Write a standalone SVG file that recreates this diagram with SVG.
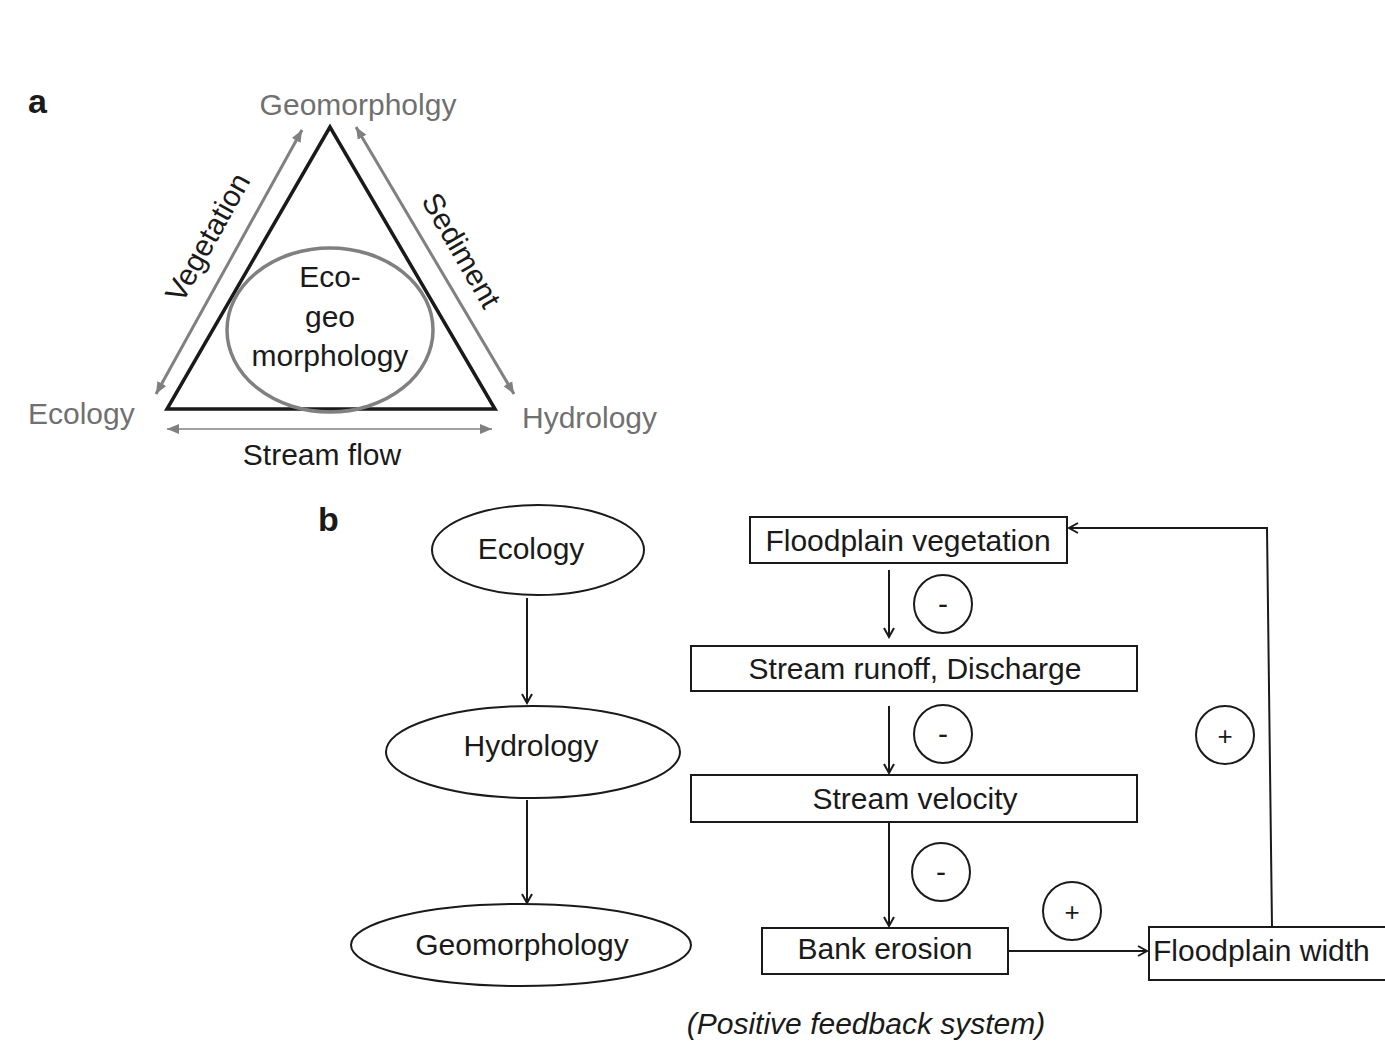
<svg xmlns="http://www.w3.org/2000/svg" width="1385" height="1061" viewBox="0 0 1385 1061">
<style>
text{font-family:"Liberation Sans",Arial,sans-serif;font-size:30px;fill:#1a1a1a}
.g{fill:#707070}
.lbl{font-weight:bold;font-size:34px}
.k{stroke:#1a1a1a;stroke-width:2;fill:none}
.box{stroke:#1a1a1a;stroke-width:2;fill:#fff}
.ga{stroke:#808080;stroke-width:3;fill:none}
</style>
<defs>
<marker id="ah" markerWidth="12" markerHeight="12" refX="10" refY="6" orient="auto" markerUnits="userSpaceOnUse"><path d="M1,1 L10,6 L1,11" fill="none" stroke="#1a1a1a" stroke-width="2"/></marker>
<marker id="gh" markerWidth="14" markerHeight="12" refX="12" refY="6" orient="auto-start-reverse" markerUnits="userSpaceOnUse"><path d="M0,1 L12,6 L0,11 Z" fill="#808080"/></marker>
</defs>
<rect width="1385" height="1061" fill="#fff"/>
<text class="lbl" x="28" y="113">a</text>
<text class="lbl" x="318" y="531">b</text>
<g id="triangle">
<polygon points="330,127 167,409 495,409" fill="none" stroke="#1a1a1a" stroke-width="3.5"/>
<ellipse cx="330" cy="330" rx="103" ry="82" fill="none" stroke="#808080" stroke-width="3.5"/>
<text x="330" y="287" text-anchor="middle">Eco-</text>
<text x="330" y="327" text-anchor="middle">geo</text>
<text x="330" y="366" text-anchor="middle">morphology</text>
</g>
<g id="a-arrows">
<line class="ga" x1="156" y1="394" x2="302" y2="130" marker-start="url(#gh)" marker-end="url(#gh)"/>
<line class="ga" x1="356" y1="127" x2="514" y2="394" marker-start="url(#gh)" marker-end="url(#gh)"/>
<line stroke="#808080" stroke-width="1.5" x1="167" y1="429" x2="492" y2="429" marker-start="url(#gh)" marker-end="url(#gh)"/>
</g>
<g id="a-labels">
<text class="g" x="358" y="115" text-anchor="middle">Geomorpholgy</text>
<text class="g" x="28" y="424">Ecology</text>
<text class="g" x="522" y="428">Hydrology</text>
<text x="207" y="248" text-anchor="middle" transform="rotate(-61 207 237)">Vegetation</text>
<text x="462" y="261" text-anchor="middle" transform="rotate(60 462 250)">Sediment</text>
<text x="322" y="465" text-anchor="middle">Stream flow</text>
</g>
<g id="ecology"><ellipse class="box" cx="538" cy="550" rx="106" ry="45"/><text x="531" y="559" text-anchor="middle">Ecology</text></g>
<g id="hydrology"><ellipse class="box" cx="533" cy="752" rx="147" ry="46"/><text x="531" y="756" text-anchor="middle">Hydrology</text></g>
<g id="geomorphology"><ellipse class="box" cx="521" cy="945" rx="170" ry="41"/><text x="522" y="955" text-anchor="middle">Geomorphology</text></g>
<g id="fv"><rect class="box" x="750" y="517" width="317" height="46"/><text x="908" y="551" text-anchor="middle">Floodplain vegetation</text></g>
<g id="sr"><rect class="box" x="691" y="646" width="446" height="45"/><text x="915" y="679" text-anchor="middle">Stream runoff, Discharge</text></g>
<g id="sv"><rect class="box" x="691" y="775" width="446" height="47"/><text x="915" y="809" text-anchor="middle">Stream velocity</text></g>
<g id="be"><rect class="box" x="762" y="928" width="246" height="46"/><text x="885" y="959" text-anchor="middle">Bank erosion</text></g>
<g id="fw"><rect class="box" x="1149" y="927" width="260" height="53"/><text x="1153" y="961">Floodplain width</text></g>
<g id="signs">
<circle class="k" cx="943" cy="604" r="29"/><text x="943" y="614" text-anchor="middle">-</text>
<circle class="k" cx="943" cy="734" r="29"/><text x="943" y="744" text-anchor="middle">-</text>
<circle class="k" cx="941" cy="872" r="29"/><text x="941" y="882" text-anchor="middle">-</text>
<circle class="k" cx="1072" cy="911" r="29"/><text x="1072" y="921" text-anchor="middle" style="font-size:26px">+</text>
<circle class="k" cx="1225" cy="735" r="29"/><text x="1225" y="745" text-anchor="middle" style="font-size:26px">+</text>
</g>
<g id="connectors">
<line class="k" x1="527" y1="598" x2="527" y2="703" marker-end="url(#ah)"/>
<line class="k" x1="527" y1="800" x2="527" y2="903" marker-end="url(#ah)"/>
<line class="k" x1="889" y1="570" x2="889" y2="637" marker-end="url(#ah)"/>
<line class="k" x1="889" y1="706" x2="889" y2="773" marker-end="url(#ah)"/>
<line class="k" x1="889" y1="822" x2="889" y2="926" marker-end="url(#ah)"/>
<line class="k" x1="1008" y1="951" x2="1147" y2="951" marker-end="url(#ah)"/>
<polyline class="k" points="1272,927 1267,528 1069,528" marker-end="url(#ah)"/>
</g>
<text x="866" y="1034" text-anchor="middle" font-style="italic">(Positive feedback system)</text>
</svg>
